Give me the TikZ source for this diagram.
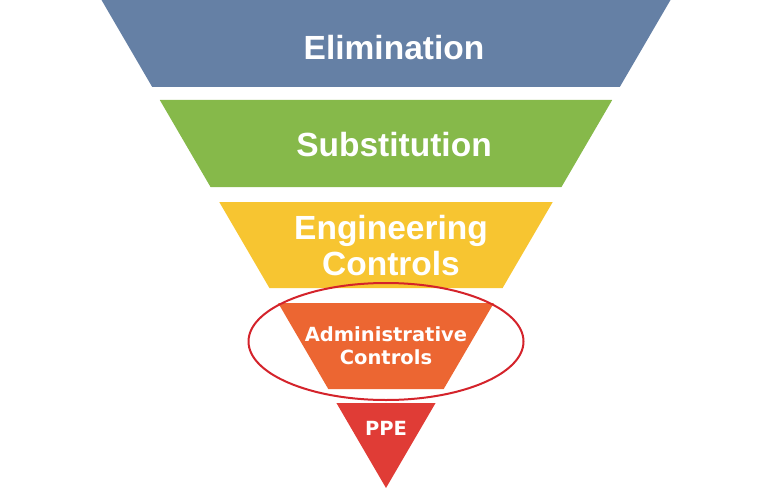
\documentclass[tikz,border=0pt]{standalone}
\usepackage{fontspec}
\setmainfont{Liberation Sans}
\newfontfamily\dejavu{DejaVu Sans}
\definecolor{elimblue}{HTML}{6580A5}
\definecolor{substgreen}{HTML}{86B94A}
\definecolor{enggold}{HTML}{F7C531}
\definecolor{adminorange}{HTML}{EC6632}
\definecolor{ppered}{HTML}{E03C36}
\definecolor{ringred}{HTML}{D4232B}

\begin{document}
\begin{tikzpicture}[x=1pt,y=-1pt,
        tiertext/.style={text=white,inner sep=0pt,align=center,
            font=\fontsize{33.5}{36}\selectfont\bfseries},
        smalltext/.style={text=white,inner sep=0pt,align=center,
            font=\dejavu\fontsize{19.5}{23}\selectfont\bfseries},
        ring/.style={draw=ringred,line width=2pt}]
    \useasboundingbox (0,0) rectangle (768,492);
    % funnel tiers, edges meet at the apex (386,488)
    \foreach \t/\b/\c in {0/87/elimblue,100/187/substgreen,202/288/enggold,303/389/adminorange}
        \fill[\c] ({386-0.583*(488-\t)},\t) -- ({386+0.583*(488-\t)},\t)
            -- ({386+0.583*(488-\b)},\b) -- ({386-0.583*(488-\b)},\b) -- cycle;
    \fill[ppered] ({386-0.583*85},403) -- ({386+0.583*85},403) -- (386,488) -- cycle;
    \node[tiertext] (elim) at (394,47.5) {Elimination};
    \node[tiertext] (subst) at (394,144.5) {Substitution};
    \node[tiertext] (eng) at (391,245.5) {Engineering\\Controls};
    \node[smalltext] (admin) at (386,346) {Administrative\\Controls};
    \node[smalltext] (ppe) at (386,428.5) {PPE};
    \draw[ring] (386,341.5) ellipse [x radius=137.5,y radius=58.5];
\end{tikzpicture}
\end{document}
